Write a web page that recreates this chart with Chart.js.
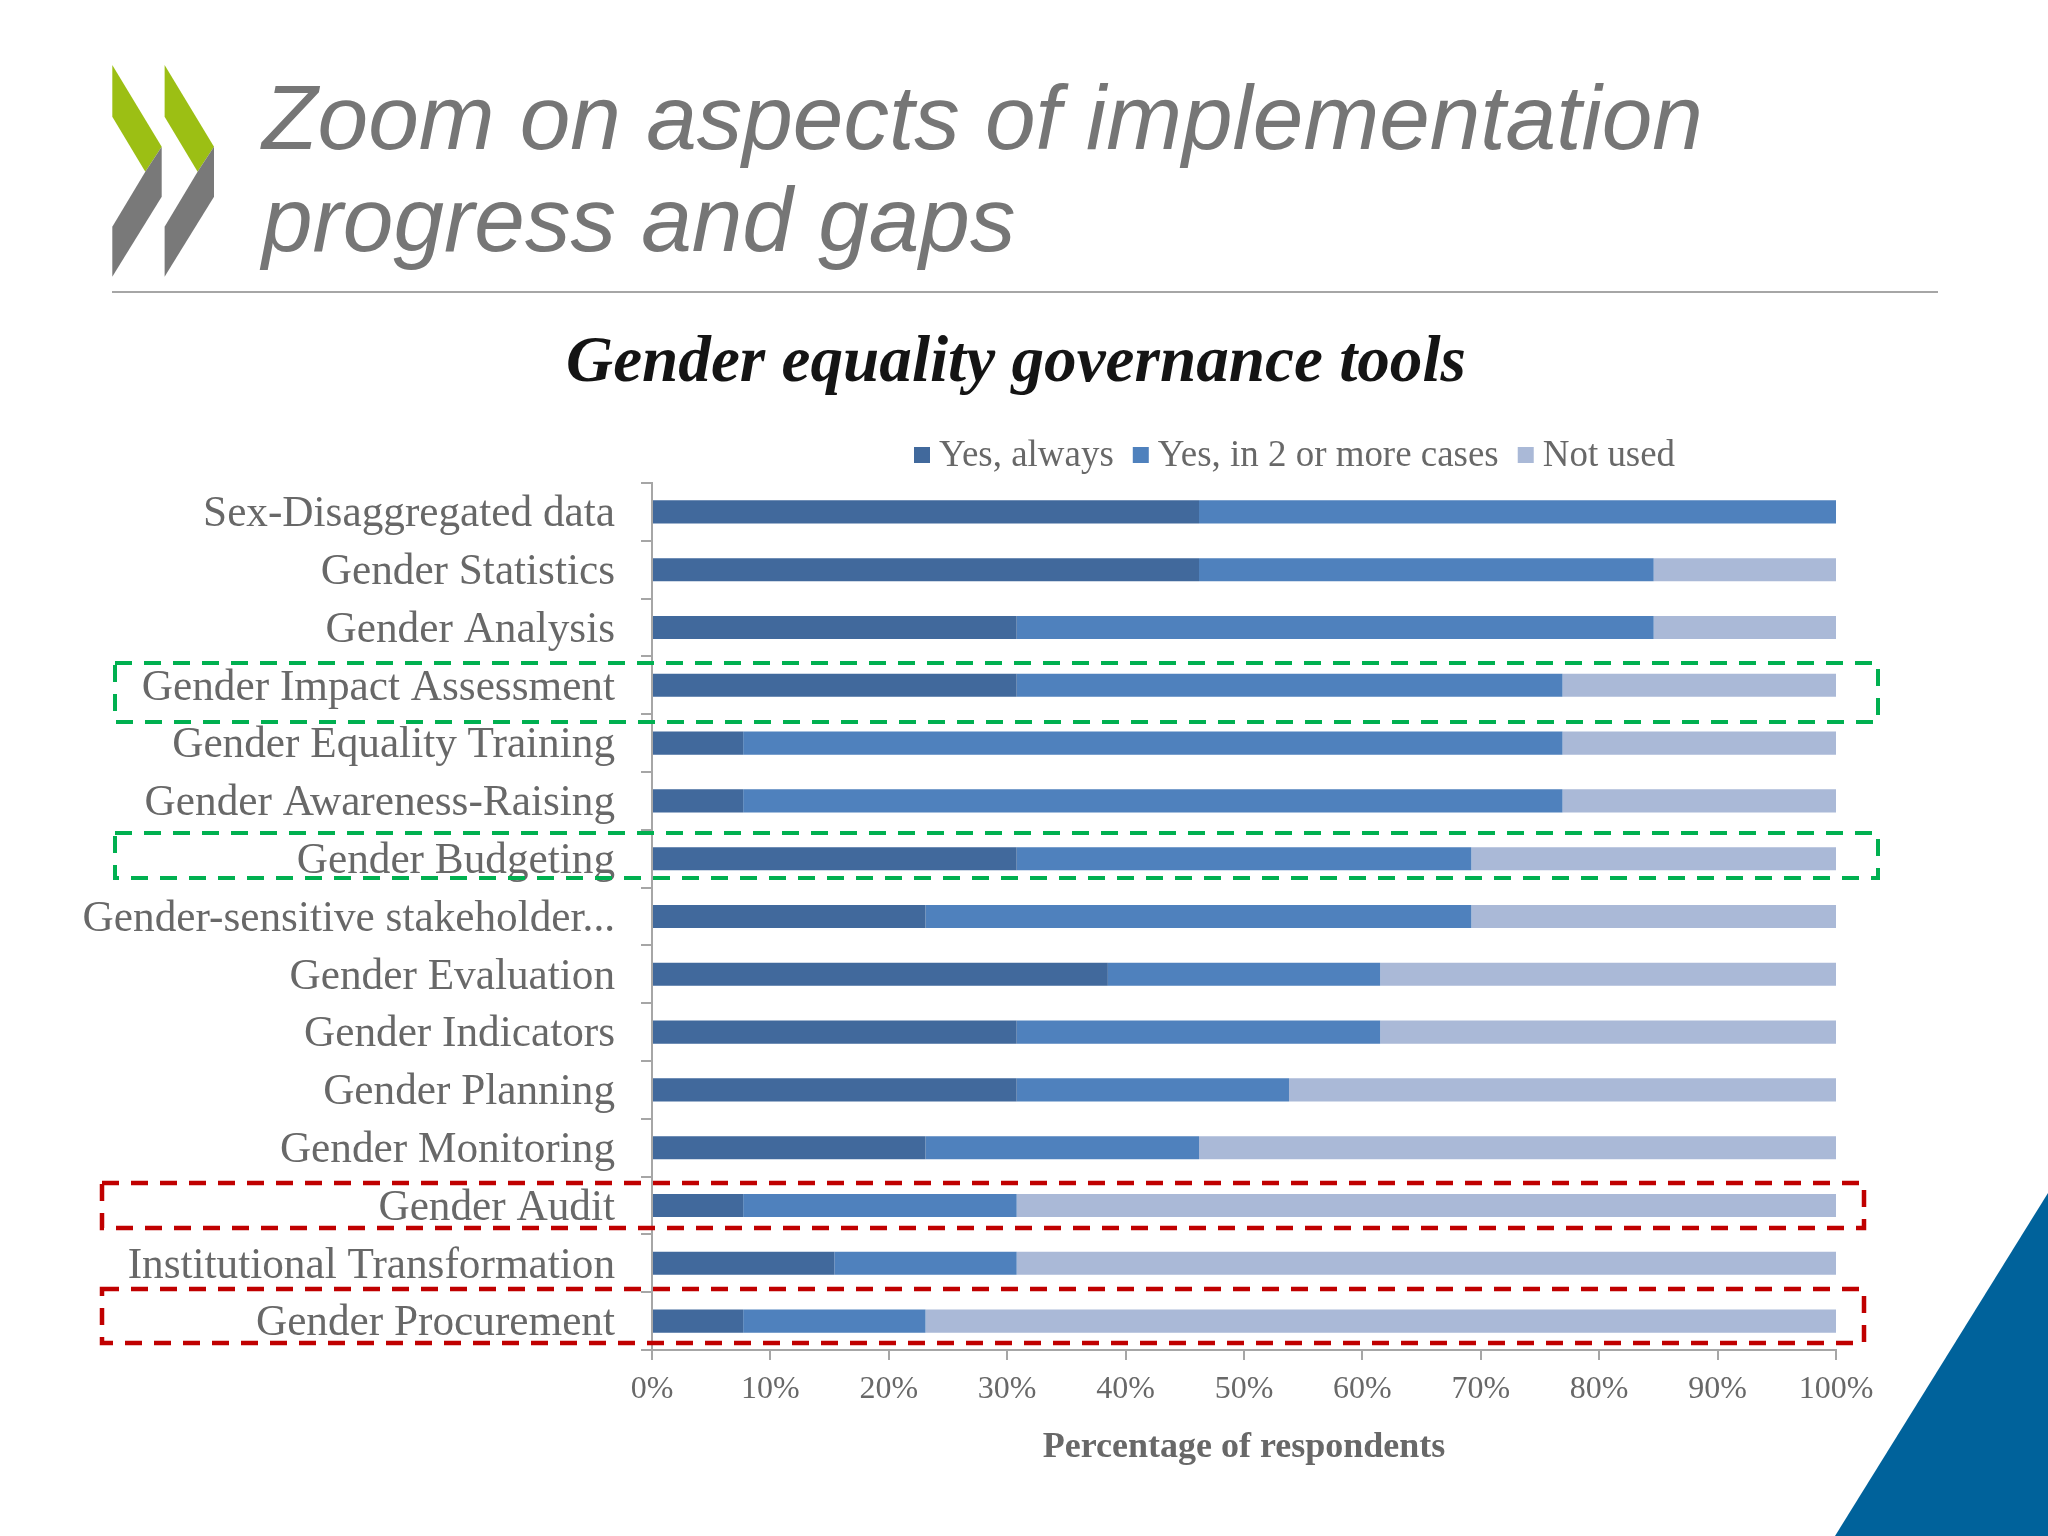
<!DOCTYPE html>
<html>
<head>
<meta charset="utf-8">
<script src="https://cdn.jsdelivr.net/npm/chart.js@4.4.1/dist/chart.umd.min.js"></script>
<style>
  html, body { margin: 0; padding: 0; background: #ffffff; }
  #page { position: relative; width: 2048px; height: 1536px; overflow: hidden; background: #ffffff; }
  .hdr { position: absolute; left: 262px; font-family: 'Liberation Sans', Arial, sans-serif; font-style: italic; color: #767676; white-space: nowrap; }
  #rule { position: absolute; left: 112px; top: 291px; width: 1826px; height: 2px; background: #a6a6a6; }
  #chartBox { position: absolute; left: 0; top: 300px; width: 2048px; height: 1236px; }
  svg { position: absolute; left: 0; top: 0; }
</style>
</head>
<body>
<div id="page">
  <svg width="2048" height="1536">
    <polygon points="112.3,65 161.7,146.7 145.3,171.7 112.3,116.7" fill="#9cbf14"/>
    <polygon points="161.7,146.7 161.7,196.7 112.3,276.7 112.3,226.7 145.3,171.7" fill="#797979"/>
    <polygon points="164.6,65 214,146.7 197.6,171.7 164.6,116.7" fill="#9cbf14"/>
    <polygon points="214,146.7 214,196.7 164.6,276.7 164.6,226.7 197.6,171.7" fill="#797979"/>
    <polygon points="2048,1193 1835,1536 2048,1536" fill="#00629b"/>
  </svg>
  <div class="hdr" id="h1">Zoom on aspects of implementation</div>
  <div class="hdr" id="h2">progress and gaps</div>
  <div id="rule"></div>
  <div id="chartBox"><canvas id="c" width="2048" height="1236"></canvas></div>
</div>
<script>
// ---------------- DATA ----------------
const categories = [
  "Sex-Disaggregated data",
  "Gender Statistics",
  "Gender Analysis",
  "Gender Impact Assessment",
  "Gender Equality Training",
  "Gender Awareness-Raising",
  "Gender Budgeting",
  "Gender-sensitive stakeholder...",
  "Gender Evaluation",
  "Gender Indicators",
  "Gender Planning",
  "Gender Monitoring",
  "Gender Audit",
  "Institutional Transformation",
  "Gender Procurement"
];
const seriesNames = ["Yes, always", "Yes, in 2 or more cases", "Not used"];
const yesAlways  = [46.2, 46.2, 30.8, 30.8,  7.7,  7.7, 30.8, 23.1, 38.5, 30.8, 30.8, 23.1,  7.7, 15.4,  7.7];
const yesTwoPlus = [53.8, 38.4, 53.8, 46.1, 69.2, 69.2, 38.4, 46.1, 23.0, 30.7, 23.0, 23.1, 23.1, 15.4, 15.4];
const notUsed    = [ 0.0, 15.4, 15.4, 23.1, 23.1, 23.1, 30.8, 30.8, 38.5, 38.5, 46.2, 53.8, 69.2, 69.2, 76.9];
const xTickValues = [0, 10, 20, 30, 40, 50, 60, 70, 80, 90, 100];
const chartTitle = "Gender equality governance tools";
const xAxisTitle = "Percentage of respondents";

// ---------------- STYLE ----------------
const SERIF = "'Liberation Serif', 'Times New Roman', serif";
const SANS = "'Liberation Sans', Arial, sans-serif";
const colors = ["#41699c", "#4f81bd", "#aab9d7"];
const TEXT_GRAY = "#686868";
const AXIS_GRAY = "#a6a6a6";
const CANVAS_TOP = 300;

const mctx = document.createElement('canvas').getContext('2d');
function fit(text, font, width) {
  mctx.font = font.replace('SIZE', '100px');
  return 100 * width / mctx.measureText(text).width;
}

// header
const hSize = fit("Zoom on aspects of implementation", "italic 400 SIZE " + SANS, 1441);
for (const [id, base] of [["h1", 150], ["h2", 252]]) {
  const el = document.getElementById(id);
  el.style.fontSize = hSize + 'px';
  el.style.lineHeight = hSize + 'px';
  el.style.top = (base - 0.8465 * hSize) + 'px';
}

const labelSize = fit("Sex-Disaggregated data", "400 SIZE " + SERIF, 412);
const legendSize = fit("Yes, in 2 or more cases", "400 SIZE " + SERIF, 341);
const titleSize = fit(chartTitle, "italic 700 SIZE " + SERIF, 900);
const tickSize = 32;
const xTitleSize = 36;

const areaTop = 483 - CANVAS_TOP;      // 183
const titlePadTop = 364 - CANVAS_TOP - 0.6 * titleSize;
const titlePadBottom = areaTop - titlePadTop - 1.2 * titleSize;

// custom legend (drawn from dataset labels/colors)
const legendPlugin = {
  id: 'sideLegend',
  afterDraw(chart) {
    const ctx = chart.ctx;
    ctx.save();
    ctx.font = `400 ${legendSize}px ${SERIF}`;
    ctx.textBaseline = 'middle';
    ctx.textAlign = 'left';
    let x = 914;
    const yc = 455 - CANVAS_TOP;
    chart.data.datasets.forEach((ds) => {
      ctx.fillStyle = ds.backgroundColor;
      ctx.fillRect(x, yc - 8, 16, 16);
      x += 16 + 9;
      ctx.fillStyle = TEXT_GRAY;
      ctx.fillText(ds.label, x, yc + 1);
      x += ctx.measureText(ds.label).width + 19;
    });
    ctx.restore();
  }
};

// annotation boxes (page coordinates)
const highlightBoxes = [
  { x1: 115, x2: 1878, y1: 663, y2: 722, color: "#00b050", w: 4 },
  { x1: 115, x2: 1878, y1: 833, y2: 878, color: "#00b050", w: 4 },
  { x1: 102, x2: 1864, y1: 1183, y2: 1228, color: "#c00000", w: 4.5 },
  { x1: 102, x2: 1864, y1: 1289, y2: 1343, color: "#c00000", w: 4.5 }
];
const boxPlugin = {
  id: 'highlightBoxes',
  afterDraw(chart) {
    const ctx = chart.ctx;
    ctx.save();
    highlightBoxes.forEach(b => {
      ctx.strokeStyle = b.color;
      ctx.lineWidth = b.w;
      ctx.setLineDash([17, 12]);
      ctx.strokeRect(b.x1, b.y1 - CANVAS_TOP, b.x2 - b.x1, b.y2 - b.y1);
    });
    ctx.restore();
  }
};

const seriesData = [yesAlways, yesTwoPlus, notUsed];

new Chart(document.getElementById('c'), {
  type: 'bar',
  data: {
    labels: categories,
    datasets: seriesNames.map((name, i) => ({
      label: name,
      data: seriesData[i],
      backgroundColor: colors[i],
      borderWidth: 0,
      barPercentage: 0.4,
      categoryPercentage: 1.0
    }))
  },
  options: {
    indexAxis: 'y',
    responsive: false,
    animation: false,
    devicePixelRatio: 1,
    layout: { padding: { left: 196, right: 212, top: 0, bottom: 61 } },
    plugins: {
      legend: { display: false },
      tooltip: { enabled: false },
      title: {
        display: true,
        text: chartTitle,
        color: '#141414',
        font: { family: SERIF, size: titleSize, weight: 'bold', style: 'italic', lineHeight: 1.2 },
        padding: { top: titlePadTop, bottom: titlePadBottom }
      }
    },
    scales: {
      x: {
        stacked: true,
        min: 0,
        max: 100,
        afterBuildTicks(scale) { scale.ticks = xTickValues.map(v => ({ value: v })); },
        afterFit(scale) { scale.height = 125; },
        ticks: {
          color: TEXT_GRAY,
          font: { family: SERIF, size: tickSize },
          padding: 10,
          maxRotation: 0,
          autoSkip: false,
          callback: (v) => v + '%'
        },
        grid: { display: true, drawOnChartArea: false, drawTicks: true, tickLength: 10, color: AXIS_GRAY, lineWidth: 2 },
        border: { display: true, color: AXIS_GRAY, width: 2 },
        title: {
          display: true,
          text: xAxisTitle,
          color: TEXT_GRAY,
          font: { family: SERIF, size: xTitleSize, weight: 'bold' },
          padding: { top: 0, bottom: 6 }
        }
      },
      y: {
        stacked: true,
        afterFit(scale) {
          scale.width = 652 - 196;
          // let long category labels extend left of the axis box (no clipping)
          scale._computeLabelArea = function () { return undefined; };
        },
        ticks: {
          color: TEXT_GRAY,
          font: { family: SERIF, size: labelSize },
          padding: 26,
          labelOffset: 3,
          autoSkip: false
        },
        grid: { display: true, drawOnChartArea: false, drawTicks: true, tickLength: 11, color: AXIS_GRAY, lineWidth: 2 },
        border: { display: true, color: AXIS_GRAY, width: 2 }
      }
    }
  },
  plugins: [legendPlugin, boxPlugin]
});
</script>
</body>
</html>
